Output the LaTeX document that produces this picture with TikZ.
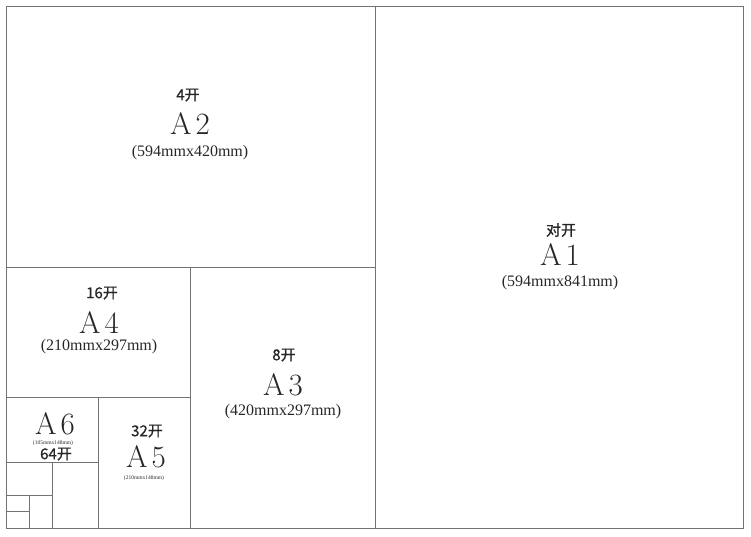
\documentclass[tikz,border=0pt]{standalone}
\usepackage{fontspec}
\newfontfamily\cjk[FakeBold=0.8]{Noto Sans CJK SC}
\newfontfamily\dimfont{Liberation Serif}
\usetikzlibrary{positioning}

\tikzset{
  sheet/.style={draw=black!55,line width=.8pt},
  kai/.style={font=\cjk\fontsize{15}{15}\selectfont,inner sep=0pt,text=black!85},
  big/.style={font=\fontsize{31}{31}\selectfont,inner sep=0pt,text=black!85},
  dims/.style={font=\dimfont\fontsize{16}{16}\selectfont,inner sep=0pt,text=black!85},
  tiny/.style={font=\dimfont\fontsize{5.5}{5.5}\selectfont,inner sep=0pt,text=black!85}
}
\newcommand\sheetname[1]{A\kern4pt#1}

\begin{document}
\begin{tikzpicture}[x=1pt,y=-1pt]
        \useasboundingbox (0,0) rectangle (751,536);
        \draw[sheet] (6,6) rectangle (743,528);
        % cuts, each one halves the sheet left over
        \foreach \xa/\ya/\xb/\yb in {375/6/375/528,6/267/375/267,190/267/190/528,
          6/397/190/397,98/397/98/528,6/462/98/462,52/462/52/528,
          6/495/52/495,29/495/29/528,6/511/29/511}
        {
          \draw[sheet] (\xa,\ya) -- (\xb,\yb);
        }

        \node[big] (a1) at (560,255) {\sheetname{1}};
        \node[kai] (a1k) at (561,230) {对开};
        \node[dims] (a1s) at (560,283) {(594mmx841mm)};

        \node[big] (a2) at (190,124) {\sheetname{2}};
        \node[kai] (a2k) at (188,95) {4开};
        \node[dims] (a2s) at (190,153) {(594mmx420mm)};

        \node[big] (a3) at (283,385) {\sheetname{3}};
        \node[kai] (a3k) at (284,355) {8开};
        \node[dims] (a3s) at (283,412) {(420mmx297mm)};

        \node[big] (a4) at (99,323) {\sheetname{4}};
        \node[kai] (a4k) at (102,293) {16开};
        \node[dims] (a4s) at (99,347) {(210mmx297mm)};

        \node[big] (a5) at (146,457) {\sheetname{5}};
        \node[kai] (a5k) at (147,431) {32开};
        \node[tiny] (a5s) at (144,478) {(210mmx148mm)};

        \node[big] (a6) at (55,424) {\sheetname{6}};
        \node[tiny] (a6s) at (53,443) {(105mmx148mm)};
        \node[kai] (a6k) at (56,454) {64开};
      \end{tikzpicture}
\end{document}
